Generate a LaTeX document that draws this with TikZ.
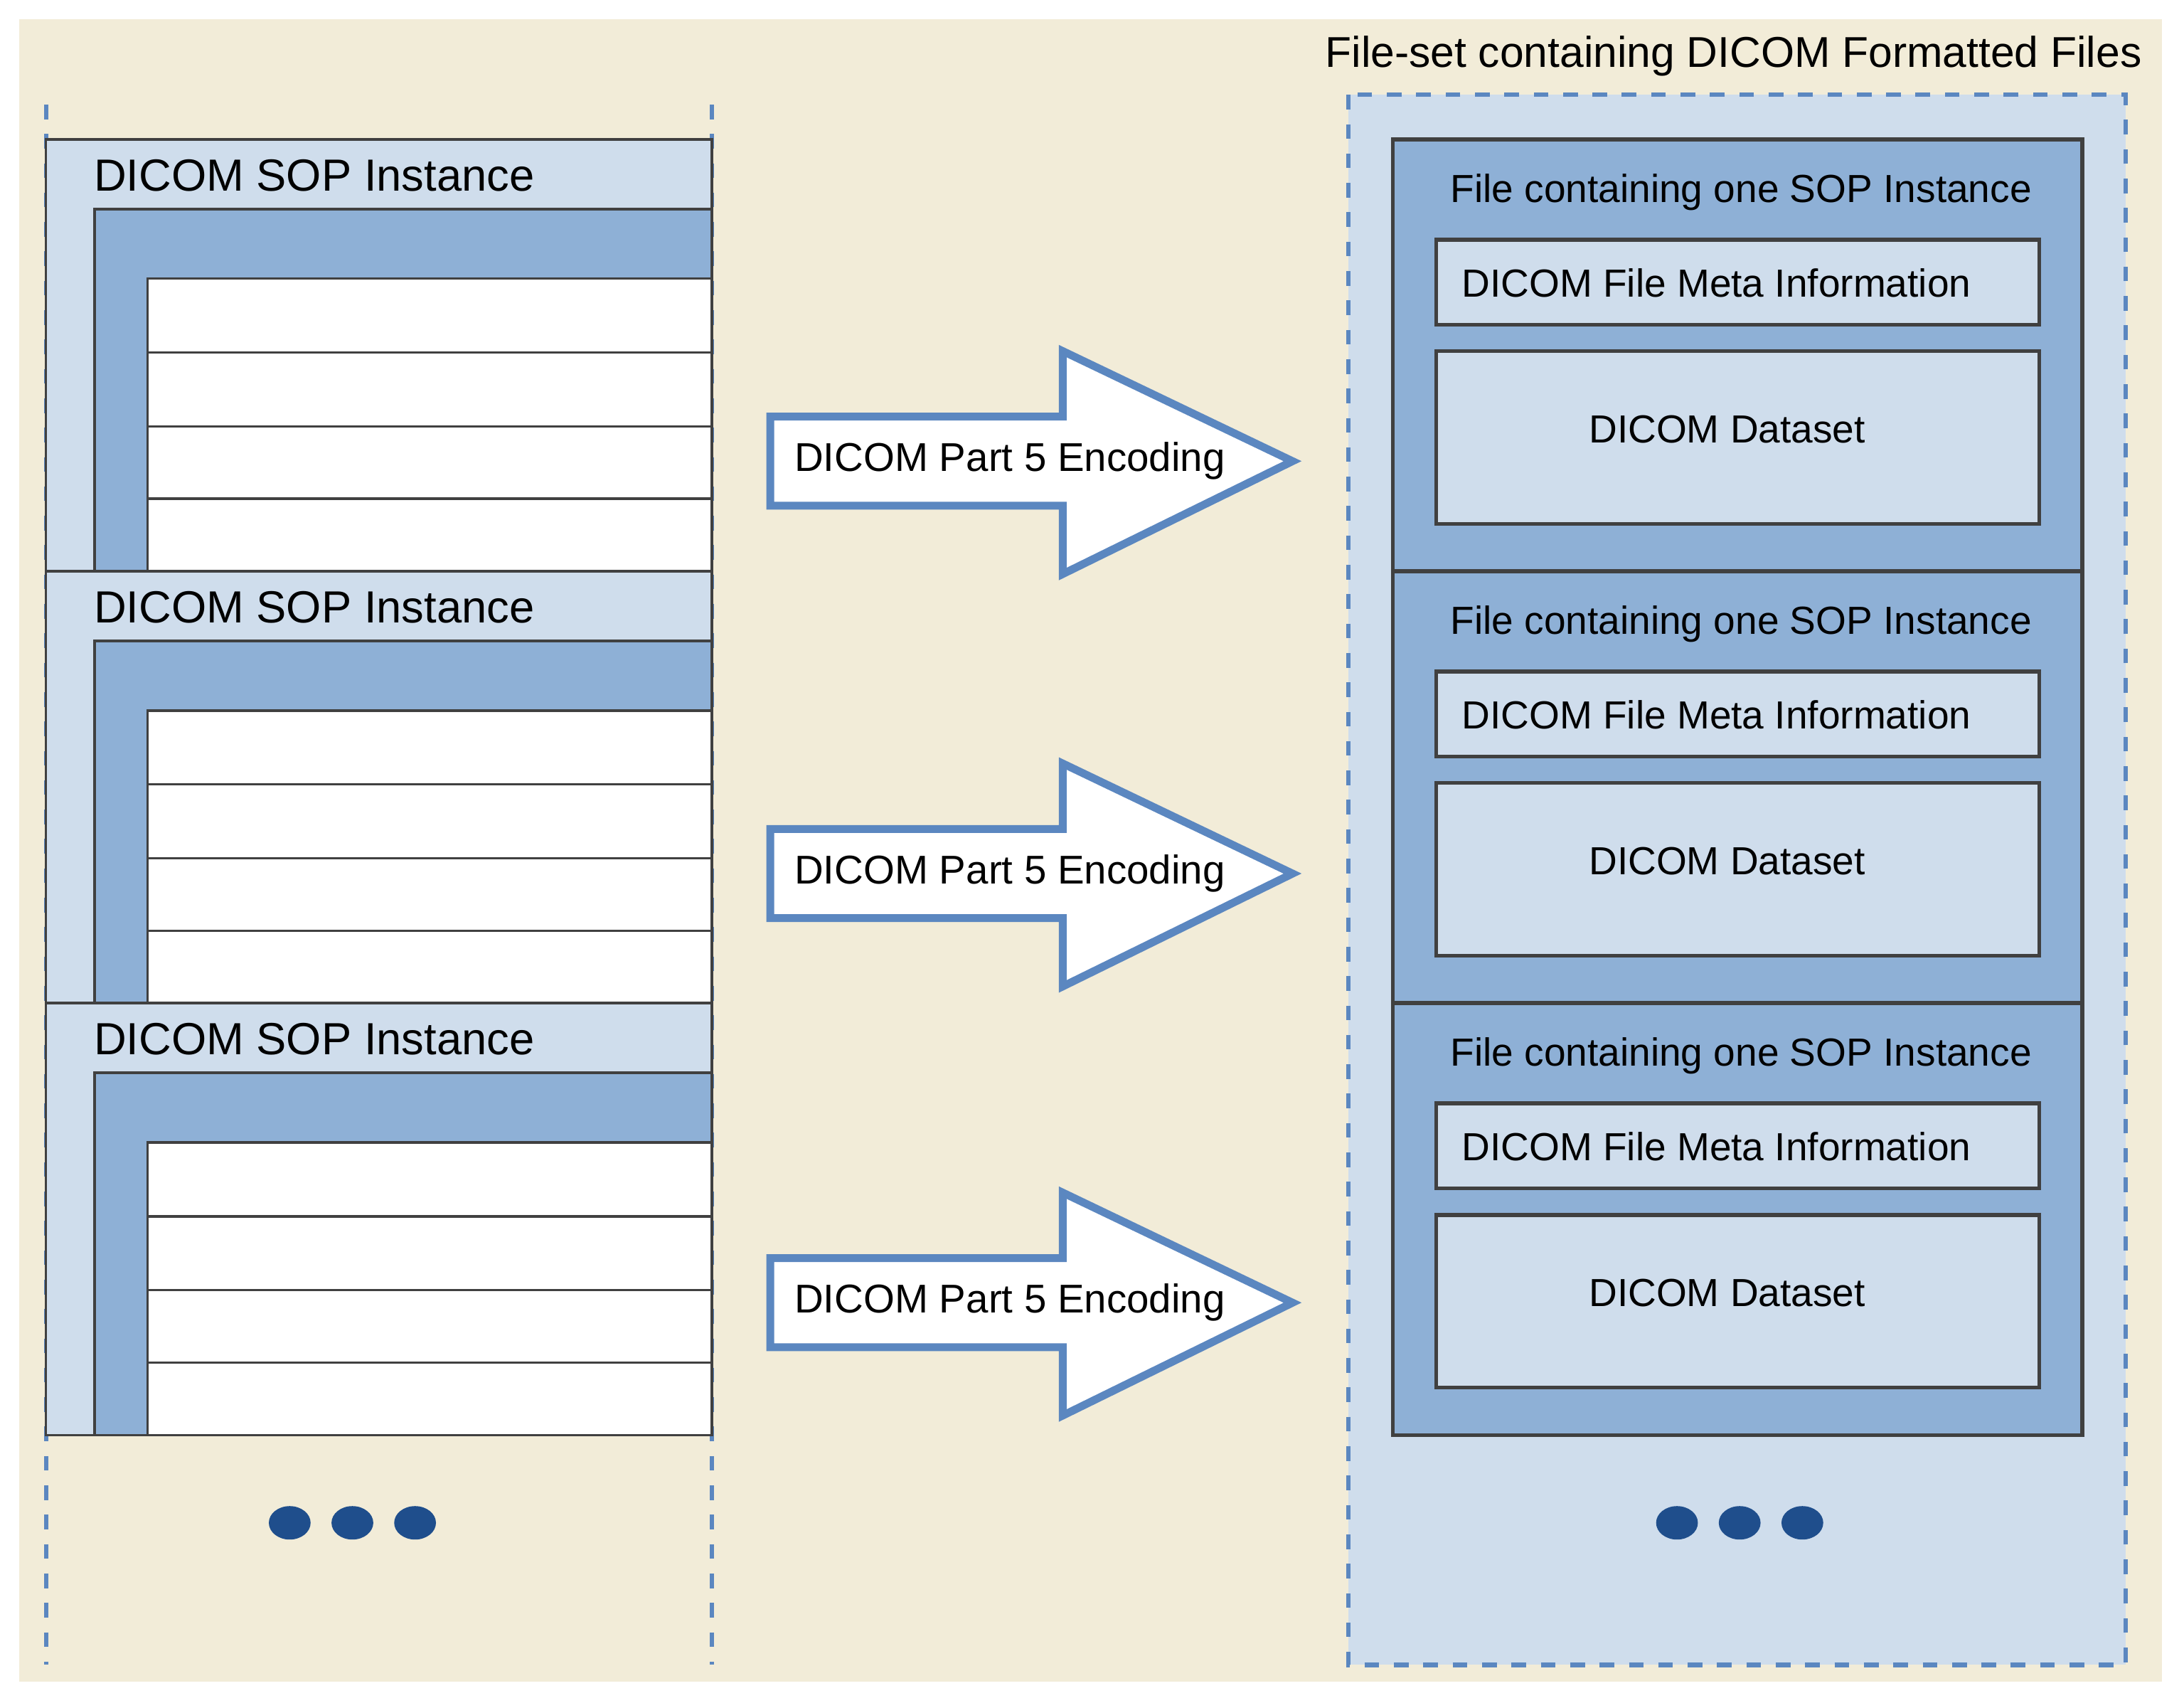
\documentclass[tikz,border=0pt]{standalone}
\usepackage{fontspec}
\setmainfont{Liberation Sans}
\begin{document}
\begin{tikzpicture}[x=0.1mm,y=-0.1mm,
  lb/.style={fill=lightb},
  mb/.style={fill=midb},
  edge/.style={draw=black!75,line width=0.5pt},
  dot/.style={fill=darkb,draw=none},
  arr/.style={draw=arrb,line width=1.6pt,fill=white,line join=miter},
  sop/.style={anchor=west,font=\fontsize{9.2}{10}\selectfont},
  ftitle/.style={font=\fontsize{8}{9}\selectfont},
  ]
\definecolor{bg}{HTML}{F2ECD8}
\definecolor{lightb}{HTML}{CFDDEC}
\definecolor{midb}{HTML}{8EB0D6}
\definecolor{darkb}{HTML}{1F4E8C}
\definecolor{arrb}{HTML}{5B87C0}
\useasboundingbox (0,0) rectangle (1568,1222);
\fill[bg] (14,14) rectangle (1552,1207);
\draw[arrb,dashed,line width=0.9pt] (33,75) -- (33,1195) (511,75) -- (511,1195);
\foreach \i/\o in {1/0,2/310,3/620}{
  \begin{scope}[yshift=-\o*0.1mm]
  \fill[lightb] (33,100) rectangle (511,410);
  \fill[midb] (68,150) rectangle (511,410);
  \fill[white] (106,200) rectangle (511,410);
  \foreach \y in {253,306,358}{\draw[edge] (106,\y) -- (511,\y);}
  \draw[edge] (68,410) |- (511,150);
  \draw[edge] (106,410) |- (511,200);
  \draw[edge] (33,100) rectangle (511,410);
  \node[sop] (s\i) at (55,126) {DICOM SOP Instance};
  \end{scope}
}
\foreach \i/\y in {1/331,2/627,3/935}{
  \draw[arr] (553,\y-32) -- (763,\y-32) -- (763,\y-79) -- (928,\y) -- (763,\y+81) -- (763,\y+32) -- (553,\y+32) -- cycle;
  \node[ftitle,font=\fontsize{8.2}{9}\selectfont] (a\i) at (725,\y) {DICOM Part 5 Encoding};
}
\foreach \i/\x in {1/208,2/253,3/298}{\fill[dot] (\x,1093) ellipse (15 and 12);}
\draw[arrb,dashed,line width=0.9pt,fill=lightb] (968,68) rectangle (1526,1195);
\node[anchor=east,font=\fontsize{8.8}{10}\selectfont] (t) at (1550,40) {File-set containing DICOM Formatted Files};
\foreach \i/\o in {1/0,2/310,3/620}{
  \begin{scope}[yshift=-\o*0.1mm]
  \draw[edge,fill=midb,line width=0.8pt] (1000,100) rectangle (1495,410);
  \node[ftitle] (f\i) at (1250,138) {File containing one SOP Instance};
  \draw[edge,fill=lightb,line width=0.8pt] (1031,172) rectangle (1464,233);
  \node[ftitle,anchor=west] (m\i) at (1037,203) {DICOM File Meta Information};
  \draw[edge,fill=lightb,line width=0.8pt] (1031,252) rectangle (1464,376);
  \node[ftitle] (d\i) at (1240,308) {DICOM Dataset};
  \end{scope}
}
\foreach \x in {1204,1249,1294}{\fill[dot] (\x,1093) ellipse (15 and 12);}
\end{tikzpicture}
\end{document}
